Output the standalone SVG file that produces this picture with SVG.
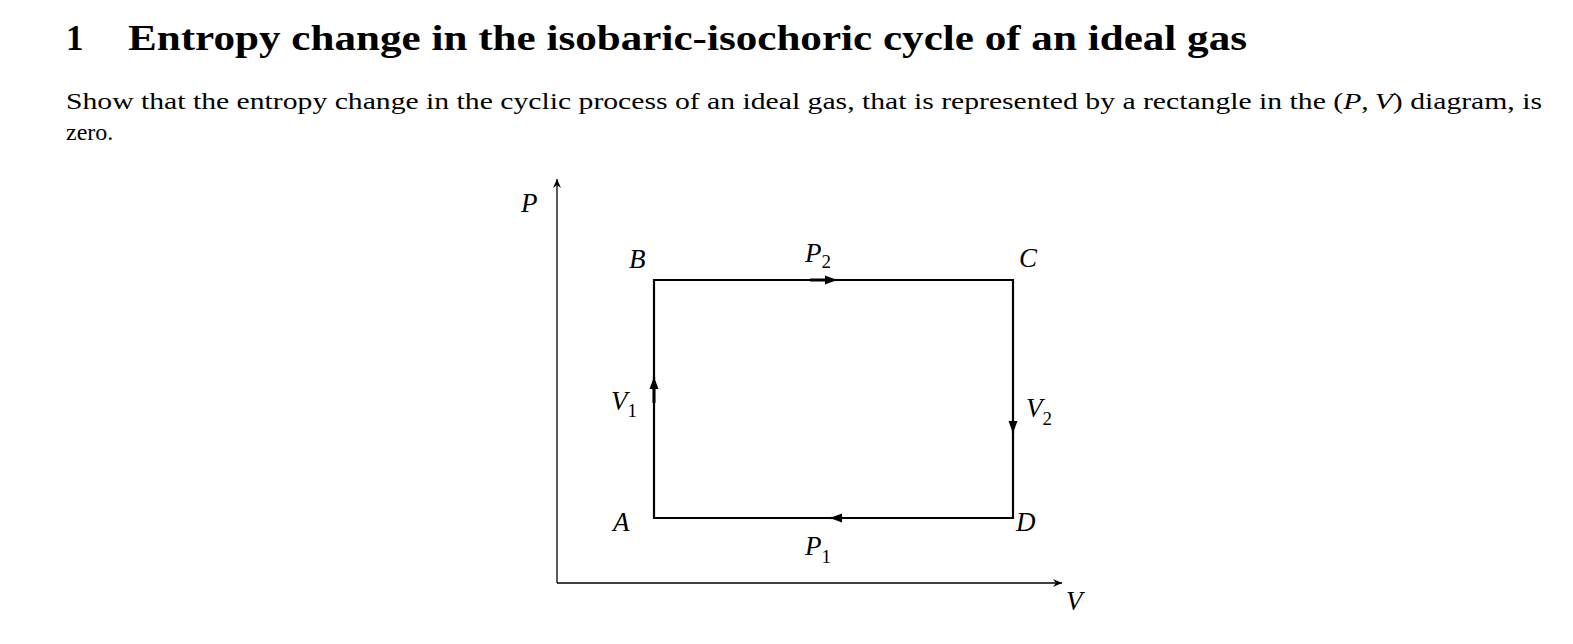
<svg xmlns="http://www.w3.org/2000/svg" width="1573" height="644" viewBox="0 0 1573 644">
<style>
.t{font-family:"Liberation Serif","Times New Roman",serif;fill:#000}
.h{font-size:35px;font-weight:bold}
.b{font-size:24px}
.l{font-size:27px;font-style:italic}
.s{font-size:19px;font-style:normal}
.ax{stroke:#000;stroke-width:1.3;fill:none}
.edge{stroke:#000;stroke-width:2.2;fill:none}
.sh{stroke:#000;stroke-width:3;fill:none}
</style>
<defs>
<marker id="ah" markerWidth="10" markerHeight="10" refX="9" refY="5" orient="auto" markerUnits="userSpaceOnUse">
<path d="M0,1 L9,5 L0,9 L3,5 Z" fill="#000"/>
</marker>
<marker id="mid" markerWidth="14" markerHeight="12" refX="12" refY="6" orient="auto" markerUnits="userSpaceOnUse">
<path d="M0,1.5 L12,6 L0,10.5 Z" fill="#000"/>
</marker>
</defs>
<rect width="1573" height="644" fill="#fff"/>
<text class="t h" x="66" y="50">1</text>
<text class="t h" x="128" y="50" textLength="1119" lengthAdjust="spacingAndGlyphs">Entropy change in the isobaric-isochoric cycle of an ideal gas</text>
<text class="t b" x="66" y="109" textLength="1476" lengthAdjust="spacingAndGlyphs">Show that the entropy change in the cyclic process of an ideal gas, that is represented by a rectangle in the (<tspan font-style="italic">P</tspan>,&#8201;<tspan font-style="italic">V</tspan>) diagram, is</text>
<text class="t b" x="66" y="140">zero.</text>
<g id="connectors">
<path class="ax" d="M557,583 V179" marker-end="url(#ah)"/>
<path class="ax" d="M557,583 H1062" marker-end="url(#ah)"/>
<path class="edge" d="M654,518 V280 H1013 V518 Z"/>
<path class="sh" d="M810,280 H826"/>
<path class="edge" d="M824,280 H837" marker-end="url(#mid)"/>
<path class="sh" d="M654,403 V388"/>
<path class="edge" d="M654,390 V377" marker-end="url(#mid)"/>
<path class="edge" d="M1013,420 V433" marker-end="url(#mid)"/>
<path class="edge" d="M843,518 H830" marker-end="url(#mid)"/>
</g>
<g id="axisP"><text class="t l" x="521" y="212">P</text></g>
<g id="axisV"><text class="t l" x="1066" y="610">V</text></g>
<g id="nodeB"><text class="t l" x="629" y="268">B</text></g>
<g id="nodeC"><text class="t l" x="1019" y="267">C</text></g>
<g id="nodeA"><text class="t l" x="613" y="531">A</text></g>
<g id="nodeD"><text class="t l" x="1016" y="531">D</text></g>
<g id="labelP2"><text class="t l" x="805" y="262">P<tspan class="s" dy="6">2</tspan></text></g>
<g id="labelV1"><text class="t l" x="611" y="410">V<tspan class="s" dy="7">1</tspan></text></g>
<g id="labelV2"><text class="t l" x="1026" y="417">V<tspan class="s" dy="8">2</tspan></text></g>
<g id="labelP1"><text class="t l" x="805" y="555">P<tspan class="s" dy="8">1</tspan></text></g>
</svg>
